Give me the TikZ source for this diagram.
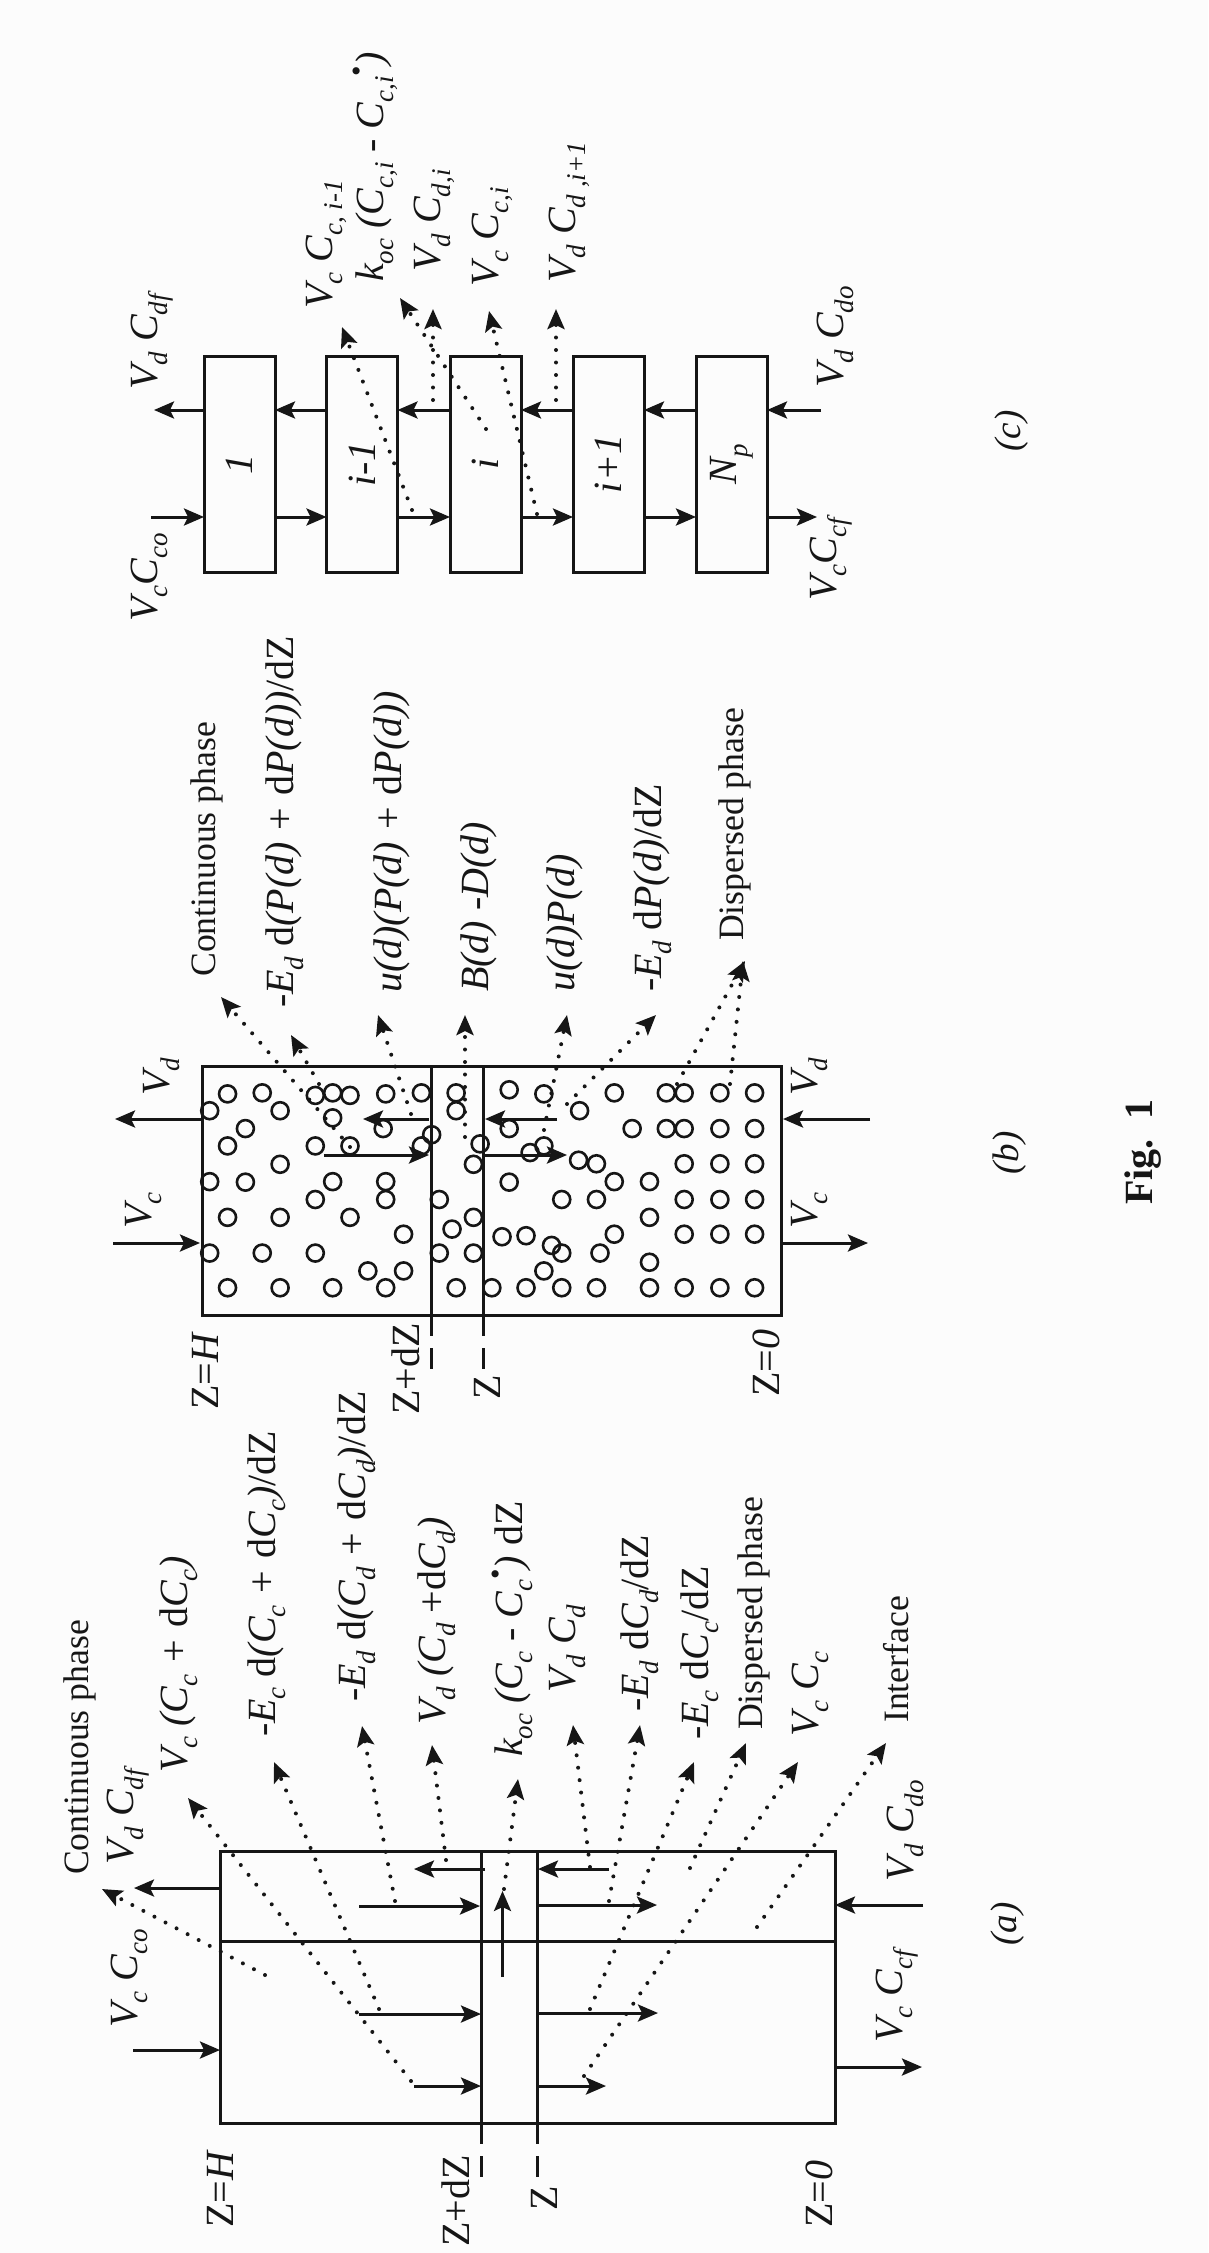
\documentclass[tikz,border=0pt]{standalone}
\usepackage{fontspec}
\setmainfont{Liberation Serif}
\usetikzlibrary{arrows.meta}
\definecolor{pagebg}{HTML}{FCFCFC}
\definecolor{ink}{HTML}{161616}
\newcommand{\sbs}[1]{\raisebox{-0.27em}{\fontsize{27}{27}\selectfont\itshape #1}}
\newcommand{\starx}{\raisebox{0.42em}{\fontsize{30}{30}\selectfont\textup{\textbullet}}}
\newcommand{\up}[1]{\textup{#1}}
\newcommand{\pl}{\hspace{0.3em}\textup{+}\hspace{0.3em}}
\tikzset{
  lab/.style={rotate=90,anchor=base west,inner sep=0pt,text=ink,font=\fontsize{40}{42}\selectfont\itshape},
  plainlab/.style={rotate=90,anchor=base west,inner sep=0pt,text=ink,font=\fontsize{35.7}{38}\selectfont},
  panelcap/.style={rotate=90,anchor=center,inner sep=0pt,text=ink,font=\fontsize{37}{40}\selectfont\itshape},
  frame/.style={draw=ink,line width=3pt,rectangle,inner sep=0pt,outer sep=0pt},
  stage/.style={frame,rotate=90,minimum width=216pt,minimum height=71pt,text=ink,font=\fontsize{40}{42}\selectfont\itshape},
  solidarrow/.style={draw=ink,line width=3pt,-{Stealth[length=20pt,width=17pt,inset=4pt]}},
  dotarrow/.style={draw=ink,line width=4pt,line cap=round,dash pattern=on 0pt off 12.5pt,-{Stealth[length=20pt,width=17pt,inset=4pt]}},
  rulel/.style={draw=ink,line width=3pt},
  ticks/.style={draw=ink,line width=3pt,dash pattern=on 21pt off 12pt},
  bubble/.style={draw=ink,line width=2.6pt}
}
\begin{document}
\begin{tikzpicture}[x=1pt,y=-1pt]
\fill[pagebg] (0,0) rectangle (1208,2253);
\useasboundingbox (0,0) rectangle (1208,2253);

% ---------- (a) ----------
\node[frame,minimum width=615pt,minimum height=272pt] (boxa) at (527.5,1987) {};
\coordinate (azh) at (481.5,2177);
\coordinate (azl) at (537.5,2177);
\coordinate (amid) at (527.5,1941);
\draw[rulel] (boxa.north -| azh) -- (boxa.south -| azh);
\draw[rulel] (boxa.north -| azl) -- (boxa.south -| azl);
\draw[rulel] (boxa.west |- amid) -- (boxa.east |- amid);
\draw[ticks] (boxa.south -| azh) -- (azh);
\draw[ticks] (boxa.south -| azl) -- (azl);

\foreach \n/\a/\b/\c/\d in {1/133/2050/220/2050,2/220/1888/134/1888,3/923/1905/835/1905,4/835/2067/922/2067,
  5/485/1869/414/1869,6/609/1869/538/1869,7/359/1906/480/1906,8/538/1905/657/1905,
  9/359/2014/481/2014,10/539/2013/658/2013,11/414/2086/481/2086,12/539/2086/606/2086,13/502.5/1977/502.5/1891}{
  \coordinate (as\n) at (\a,\b); \coordinate (ae\n) at (\c,\d);
  \draw[solidarrow] (as\n) -- (ae\n);
}
\foreach \n/\a/\b/\c/\d in {1/265/1975/102/1889,2/411/2081/188/1798,3/379/2009/274/1762,4/395/1901/362/1726,
  5/446/1860/432/1745,6/504/1889/518/1779,7/590/1867/573/1725,8/609/1901/640/1725,
  9/590/2009/694/1762,10/690/1868/746/1743,11/584/2076/798/1762,12/757/1927/886/1743}{
  \coordinate (ads\n) at (\a,\b); \coordinate (ade\n) at (\c,\d);
  \draw[dotarrow] (ads\n) -- (ade\n);
}
\node[plainlab] (a1) at (88,1875) {Continuous phase};
\node[lab] (a2) at (133,1865) {V\sbs{d} C\sbs{df}};
\node[lab] (a3) at (187,1773) {V\sbs{c} (C\sbs{c}\pl\up{d}C\sbs{c})};
\node[lab] (a4) at (275,1737) {-E\sbs{c} \up{d}(C\sbs{c}\pl\up{d}C\sbs{c})\up{/dZ}};
\node[lab] (a5) at (365,1702) {-E\sbs{d} \up{d}(C\sbs{d}\pl\up{d}C\sbs{d})\up{/dZ}};
\node[lab] (a6) at (445,1725) {V\sbs{d} (C\sbs{d} \up{+}\up{d}C\sbs{d})};
\node[lab] (a7) at (522,1757) {k\sbs{oc} (C\sbs{c} \up{-} C\sbs{c}\starx) \up{dZ}};
\node[lab] (a8) at (575,1693) {V\sbs{d} C\sbs{d}};
\node[lab] (a9) at (648,1712) {-E\sbs{d} \up{d}C\sbs{d}\up{/dZ}};
\node[lab] (a10) at (708,1740) {-E\sbs{c} \up{d}C\sbs{c}\up{/dZ}};
\node[plainlab] (a11) at (762,1730) {Dispersed phase};
\node[lab] (a12) at (818,1737) {V\sbs{c} C\sbs{c}};
\node[plainlab] (a13) at (908,1723) {Interface};
\node[lab] (a14) at (137,2028) {V\sbs{c} C\sbs{co}};
\node[lab] (a15) at (913,1882) {V\sbs{d} C\sbs{do}};
\node[lab] (a16) at (902,2043) {V\sbs{c} C\sbs{cf}};
\node[lab] (a17) at (233,2228) {\up{Z=}H};
\node[lab] (a18) at (469,2247) {\up{Z+dZ}};
\node[lab] (a19) at (557,2211) {\up{Z}};
\node[lab] (a20) at (832,2228) {\up{Z=}0};
\node[panelcap] (a21) at (1008,1924) {(a)};

% ---------- (b) ----------
\node[frame,minimum width=579pt,minimum height=249pt] (boxb) at (491.5,1190.5) {};
\coordinate (bzh) at (431,1369);
\coordinate (bzl) at (483,1369);
\draw[rulel] (boxb.north -| bzh) -- (boxb.south -| bzh);
\draw[rulel] (boxb.north -| bzl) -- (boxb.south -| bzl);
\draw[ticks] (boxb.south -| bzh) -- (bzh);
\draw[ticks] (boxb.south -| bzl) -- (bzl);

\foreach \a/\b in {215/903,250/870,318/868,353/903,422/873,456/868,490/873,560/870,630/868,698/868,698/903,802/862,870/870,940/903,1008/868,1110/868,1145/868,1215/868,1283/868,
  285/938,250/972,456/917,422/972,490/972,555/938,630/972,650/950,745/968,732/1008,802/938,870/972,843/985,938/1000,973/1007,1043/938,1110/938,1145/938,1215/938,1283/938,
  353/1008,215/1042,285/1043,456/1042,560/1042,422/1077,560/1077,802/1043,905/1077,973/1077,1008/1042,1077/1042,1145/1007,1215/1007,1283/1007,1145/1077,1215/1077,1283/1077,
  250/1112,353/1112,490/1112,665/1077,732/1112,690/1135,1077/1112,595/1145,788/1150,835/1148,1008/1145,1145/1145,1215/1145,1283/1145,
  215/1182,318/1182,422/1182,665/1182,732/1182,885/1167,905/1182,980/1182,1077/1200,
  525/1217,595/1217,870/1217,
  250/1250,353/1250,456/1250,560/1250,698/1250,768/1250,835/1250,905/1250,973/1250,1077/1250,1145/1250,1215/1250,1283/1250}{
  \draw[bubble] ({100+\a/1.96},{650+\b/1.96}) circle[radius=8.5pt];
}
\foreach \n/\a/\b/\c/\d in {1/113/1243/200/1243,2/202/1119/115/1119,3/870/1119/783/1119,4/783/1243/868/1243,
  5/429/1119/363/1119,6/557/1119/485/1119,7/324/1155/429/1155,8/483/1155/567/1155}{
  \coordinate (bs\n) at (\a,\b); \coordinate (be\n) at (\c,\d);
  \draw[solidarrow] (bs\n) -- (be\n);
}
\foreach \n/\a/\b/\c/\d in {1/350/1147/221/997,2/319/1084/291/1035,3/411/1114/378/1015,4/465/1137/465/1015,
  5/544/1130/567/1015,6/567/1104/656/1015,7/677/1084/745/961,8/730/1084/743/961}{
  \coordinate (bds\n) at (\a,\b); \coordinate (bde\n) at (\c,\d);
  \draw[dotarrow] (bds\n) -- (bde\n);
}
\node[plainlab] (b1) at (215,977) {Continuous phase};
\node[lab] (b2) at (293,1008) {-E\sbs{d} \up{d}(P(d)\pl\up{d}P(d))\up{/dZ}};
\node[lab] (b3) at (401,993) {u(d)(P(d)\pl\up{d}P(d))};
\node[lab] (b4) at (488,992) {B(d) \up{-}D(d)};
\node[lab] (b5) at (574,992) {u(d)P(d)};
\node[lab] (b6) at (661,992) {-E\sbs{d} \up{d}P(d)\up{/dZ}};
\node[plainlab] (b7) at (743,941) {Dispersed phase};
\node[lab] (b8) at (151,1229) {V\sbs{c}};
\node[lab] (b9) at (169,1096) {V\sbs{d}};
\node[lab] (b10) at (817,1096) {V\sbs{d}};
\node[lab] (b11) at (817,1229) {V\sbs{c}};
\node[lab] (b12) at (218,1410) {\up{Z=}H};
\node[lab] (b13) at (419,1415) {\up{Z+dZ}};
\node[lab] (b14) at (500,1400) {\up{Z}};
\node[lab] (b15) at (779,1397) {\up{Z=}0};
\node[panelcap] (b16) at (1010,1153) {(b)};
\node[rotate=90,anchor=base west,inner sep=0pt,text=ink,font=\fontsize{40}{42}\selectfont\bfseries] (fig) at (1152,1205) {Fig.\ \ 1};

% ---------- (c) ----------
\node[stage] (s1) at (239.5,464) {1};
\node[stage] (s2) at (362,464) {i-1};
\node[stage] (s3) at (485.5,464) {i};
\node[stage] (s4) at (608.5,464) {i+1};
\node[stage] (s5) at (731.5,464) {N\sbs{p}};
\coordinate (rowu) at (0,410);
\coordinate (rowd) at (0,517);
\coordinate (cin) at (151,517);
\coordinate (cdf) at (154,410);
\coordinate (cdo) at (821,410);
\coordinate (ccf) at (817,517);
\draw[solidarrow] (cin) -- (s1.north |- rowd);
\draw[solidarrow] (s1.south |- rowd) -- (s2.north |- rowd);
\draw[solidarrow] (s2.south |- rowd) -- (s3.north |- rowd);
\draw[solidarrow] (s3.south |- rowd) -- (s4.north |- rowd);
\draw[solidarrow] (s4.south |- rowd) -- (s5.north |- rowd);
\draw[solidarrow] (s5.south |- rowd) -- (ccf);
\draw[solidarrow] (cdo) -- (s5.south |- rowu);
\draw[solidarrow] (s5.north |- rowu) -- (s4.south |- rowu);
\draw[solidarrow] (s4.north |- rowu) -- (s3.south |- rowu);
\draw[solidarrow] (s3.north |- rowu) -- (s2.south |- rowu);
\draw[solidarrow] (s2.north |- rowu) -- (s1.south |- rowu);
\draw[solidarrow] (s1.north |- rowu) -- (cdf);
\foreach \n/\a/\b/\c/\d in {1/412/510/342/327,2/486/429/400/298,3/433/400/433/309,4/537/514/489/311,5/556/400/556/309}{
  \coordinate (cds\n) at (\a,\b); \coordinate (cde\n) at (\c,\d);
  \draw[dotarrow] (cds\n) -- (cde\n);
}
\node[lab] (c1) at (157,622) {V\sbs{c}C\sbs{co}};
\node[lab] (c2) at (157,390) {V\sbs{d} C\sbs{df}};
\node[lab] (c3) at (332,309) {V\sbs{c} C\sbs{c, i-1}};
\node[lab] (c4) at (383,282) {k\sbs{oc} (C\sbs{c,i} \up{-} C\sbs{c,i}\starx)};
\node[lab] (c5) at (440,272) {V\sbs{d} C\sbs{d,i}};
\node[lab] (c6) at (498,287) {V\sbs{c} C\sbs{c,i}};
\node[lab] (c7) at (575,283) {V\sbs{d} C\sbs{d ,i+1}};
\node[lab] (c8) at (843,388) {V\sbs{d} C\sbs{do}};
\node[lab] (c9) at (836,601) {V\sbs{c}C\sbs{cf}};
\node[panelcap] (c10) at (1012,431) {(c)};
\end{tikzpicture}
\end{document}
